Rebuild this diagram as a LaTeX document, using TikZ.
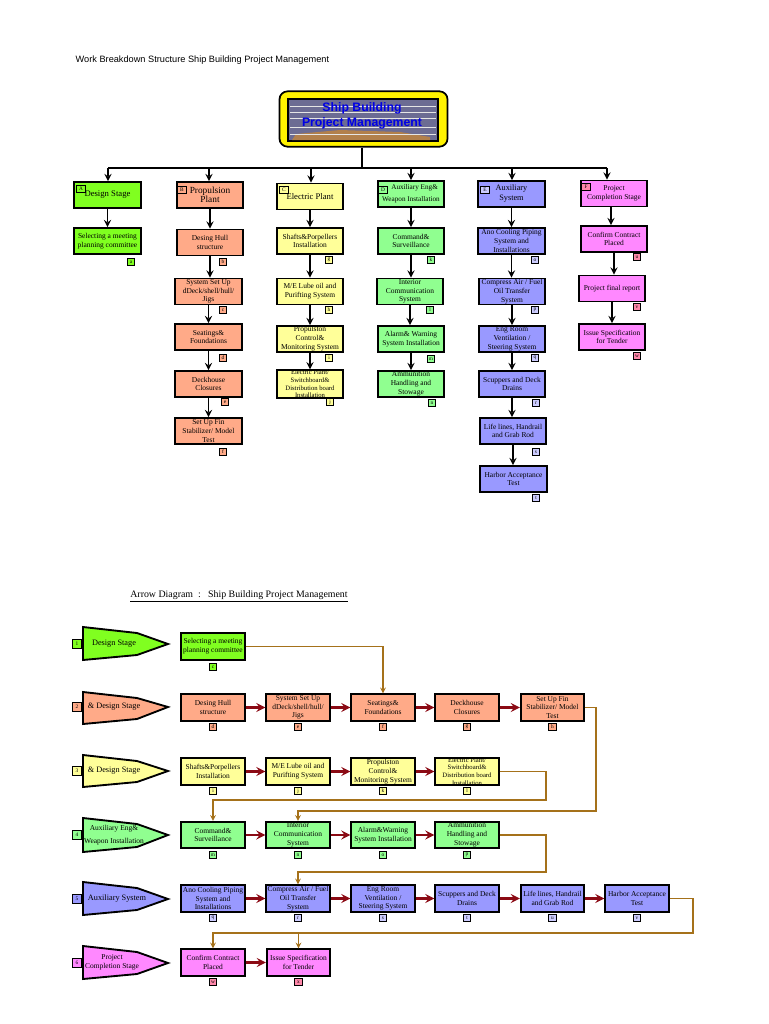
\documentclass[tikz,border=0pt]{standalone}
\usepackage{fontspec}
\setmainfont{Liberation Serif}
\setsansfont{Liberation Sans}
\definecolor{grn}{HTML}{80FF20}
\definecolor{sal}{HTML}{FFAA88}
\definecolor{yel}{HTML}{FFFF99}
\definecolor{mnt}{HTML}{90FF90}
\definecolor{per}{HTML}{9999FF}
\definecolor{pnk}{HTML}{FF88FF}
\definecolor{lper}{HTML}{CCCCFF}
\definecolor{lpnk}{HTML}{FF88AA}
\definecolor{brn}{HTML}{A5711A}
\definecolor{drd}{HTML}{8B0A14}
\begin{document}
\begin{tikzpicture}[x=0.75pt,y=-0.75pt,
    wbox/.style={draw=black,line width=1.3pt,minimum width=50pt,minimum height=19.5pt,inner sep=0pt,align=center,font=\fontsize{5.6}{6.6}\selectfont},
    abox/.style={wbox,minimum width=47.5pt,minimum height=20pt},
    tag/.style={draw=black,line width=0.7pt,minimum width=5.5pt,minimum height=5.5pt,inner sep=0pt,font=\fontsize{4}{4}\selectfont},
    stage/.style={align=center,inner sep=0pt,font=\fontsize{6.2}{7.2}\selectfont},
    arr/.style={-stealth,line width=1.4pt},
    red/.style={-stealth,draw=drd,line width=2pt},
    lnk/.style={draw=brn,line width=0.9pt},
    lnkarr/.style={lnk,-stealth}]
  \useasboundingbox (0,0) rectangle (768,1024);
  \node[anchor=west,font=\sffamily\fontsize{6.9}{8}\selectfont] (title) at (71,60) {Work Breakdown Structure Ship Building Project Management};
  \node[fill=yellow,draw=black,line width=1.3pt,rounded corners=6pt,minimum width=126pt,minimum height=41.5pt] (main) at (363.5,119) {};
  \node[fill=gray!85!blue,draw=black,line width=1.3pt,minimum width=112pt,minimum height=31pt] (mainpic) at (363,120) {};
  \fill[brown!80!gray] (296,134) -- (340,130) -- (400,132) -- (430,137) -- (430,140) -- (292,140) -- cycle;
  \foreach \y in {106,112,118,127,134}{ \draw[white!80!gray,line width=0.6pt] (290,\y) -- (436,\y); }
  \node[align=center,text=blue!90!black,font=\sffamily\bfseries\fontsize{9.2}{11.2}\selectfont] (maintext) at (362,115.5) {Ship Building\\Project Management};

  \coordinate (busl) at (108,168);
  \coordinate (busr) at (607,168);
  \coordinate (trunk) at (362,168);
  \draw[line width=1.4pt] (main.south -| trunk) -- (trunk);
  \draw[line width=1.4pt] (busl) -- (busr);

  \node[wbox,fill=grn] (A) at (107.5,195) {\fontsize{6.5}{7.5}\selectfont Design Stage};
  \node[wbox,fill=sal] (B) at (210,195) {\fontsize{7}{8}\selectfont Propulsion\\\fontsize{7}{8}\selectfont Plant};
  \node[wbox,fill=yel] (C) at (310,196.5) {\fontsize{6.5}{7.5}\selectfont Electric Plant};
  \node[wbox,fill=mnt,font=\fontsize{5.4}{9}\selectfont] (D) at (411,194) {\quad Auxiliary Eng\&\\Weapon Installation};
  \node[wbox,fill=per,font=\fontsize{6.2}{7.5}\selectfont] (E) at (511.5,194) {Auxiliary\\System};
  \node[wbox,fill=pnk] (F) at (614,193.5) {Project\\Completion Stage};

  \node[wbox,fill=grn] (wa) at (107.5,241) {Selecting a meeting\\planning committee};
  \node[wbox,fill=sal] (wb) at (210,242.5) {Desing Hull\\structure};
  \node[wbox,fill=sal] (wc) at (208.5,291.5) {System Set Up\\dDeck/shell/hull/\\Jigs};
  \node[wbox,fill=sal] (wd) at (208.5,337) {Seatings\&\\Foundations};
  \node[wbox,fill=sal] (we) at (208.5,384) {Deckhouse\\Closures};
  \node[wbox,fill=sal] (wf) at (208.5,431) {Set Up Fin\\Stabilizer/ Model\\Test};
  \node[wbox,fill=yel] (wg) at (310,241) {Shafts\&Porpellers\\Installation};
  \node[wbox,fill=yel] (wh) at (310,291.5) {M/E Lube oil and\\Purifting System};
  \node[wbox,fill=yel] (wi) at (310,339) {Propulston\\Control\&\\Monitoring System};
  \node[wbox,fill=yel,font=\fontsize{5}{5.7}\selectfont] (wj) at (310,384) {Electric Plant/\\Switchboard\&\\Distribution board\\Installation};
  \node[wbox,fill=mnt] (wk) at (411,241) {Command\&\\Surveillance};
  \node[wbox,fill=mnt] (wl) at (410,291.5) {Interior\\Communication\\System};
  \node[wbox,fill=mnt] (wm) at (411,339) {Alarm\& Warning\\System Installation};
  \node[wbox,fill=mnt] (wn) at (411,384) {Ammunition\\Handling and\\Stowage};
  \node[wbox,fill=per] (wo) at (511.5,241) {Ano Cooling Piping\\System and\\Installations};
  \node[wbox,fill=per] (wp) at (512,291.5) {Compress Air / Fuel\\Oil Transfer\\System};
  \node[wbox,fill=per] (wq) at (512,339) {Eng Room\\Ventilation /\\Steering System};
  \node[wbox,fill=per] (wr) at (512,384) {Scuppers and Deck\\Drains};
  \node[wbox,fill=per] (ws) at (513,431) {Life lines, Handrail\\and Grab Rod};
  \node[wbox,fill=per] (wt) at (513.5,479) {Harbor Acceptance\\Test};
  \node[wbox,fill=pnk] (wu) at (614,239) {Confirm Contract\\Placed};
  \node[wbox,fill=pnk] (wv) at (612,288.5) {Project final report};
  \node[wbox,fill=pnk] (ww) at (612,337) {Issue Specification\\for Tender};

  \foreach \q/\x in {A/108,B/209,C/311,D/411,E/512,F/607}{ \coordinate (drop\q) at (\x,168); \draw[arr] (drop\q) -- (drop\q |- \q.north); }
  \foreach \p/\q in {A/wa,B/wb,wb/wc,wc/wd,wd/we,we/wf,C/wg,wg/wh,wh/wi,wi/wj,D/wk,wk/wl,wl/wm,wm/wn,E/wo,wo/wp,wp/wq,wq/wr,wr/ws,ws/wt,wu/wv,wv/ww}{ \draw[arr] (\p.south) -- (\p.south |- \q.north); }
  \draw[arr] (F.south) ++(-3,0) coordinate (fdrop) -- (fdrop |- wu.north);

  \foreach \t/\x/\y/\c in {A/81/189/grn,B/182/190/sal,C/284/190/yel,D/383/190/mnt,E/485/190/lper,F/586/187/lpnk}{ \node[tag,fill=\c,minimum width=6.5pt] (tag\t) at (\x,\y) {\t}; }
  \foreach \t/\x/\y/\c in {a/131/262/grn,b/223/262/sal,c/223/310/sal,d/223/358/sal,e/225/402/sal,f/223/452/sal,g/329/260/yel,h/329/310/yel,i/329/358/yel,j/330/402/yel,k/431/260/mnt,l/430/310/mnt,m/431/359/mnt,n/432/403/mnt,o/535/260/lper,p/535/310/lper,q/535/358/lper,r/536/403/lper,s/536/452/lper,t/536/498/lper,u/637/257/lpnk,v/637/307/lpnk,w/637/356/lpnk}{ \node[tag,fill=\c] (tag\t) at (\x,\y) {\t}; }

  \node[font=\fontsize{7.4}{9}\selectfont] (arrowtitle) at (239,596) {\underline{Arrow Diagram\ \ :\ \ \ Ship Building Project Management}};

  \foreach \r/\t/\b/\m/\c in {1/627/660/644/grn,2/692/724/707/sal,3/755/787/771/yel,4/818/852/835/mnt,5/882/915/899/per,6/946/979/963/pnk}{
    \draw[fill=\c,line width=1.4pt,line join=miter] (83,\t) -- (137,\t+6) -- (168,\m) -- (137,\b-5) -- (83,\b) -- cycle;
    \node[tag,fill=\c,minimum width=6.5pt,minimum height=6.5pt] (tagr\r) at (77,\m) {\r};
  }
  \node[stage] (s1) at (114,644) {Design Stage};
  \node[stage] (s2) at (114,707) {\& Design Stage};
  \node[stage] (s3) at (114,771) {\& Design Stage};
  \node[stage,font=\fontsize{5.6}{9.5}\selectfont] (s4) at (114,835) {Auxiliary Eng\&\\Weapon Installation};
  \node[stage] (s5) at (117,899) {Auxiliary System};
  \node[stage,font=\fontsize{5.6}{6.8}\selectfont] (s6) at (112,962) {Project\\Completion Stage};

  \node[abox,fill=grn] (ac) at (213,646.5) {Selecting a meeting\\planning committee};
  \node[abox,fill=sal] (ad) at (213,707.5) {Desing Hull\\structure};
  \node[abox,fill=sal] (ae) at (298,707.5) {System Set Up\\dDeck/shell/hull/\\Jigs};
  \node[abox,fill=sal] (af) at (383,707.5) {Seatings\&\\Foundations};
  \node[abox,fill=sal] (ag) at (467,707.5) {Deckhouse\\Closures};
  \node[abox,fill=sal] (ah) at (552.5,707.5) {Set Up Fin\\Stabilizer/ Model\\Test};
  \node[abox,fill=yel] (ai) at (213,771.5) {Shafts\&Porpellers\\Installation};
  \node[abox,fill=yel] (aj) at (298,771.5) {M/E Lube oil and\\Purifting System};
  \node[abox,fill=yel] (ak) at (383,771.5) {Propulston\\Control\&\\Monitoring System};
  \node[abox,fill=yel,font=\fontsize{5}{5.7}\selectfont] (al) at (467,771.5) {Electric Plant/\\Switchboard\&\\Distribution board\\Installation};
  \node[abox,fill=mnt] (am) at (213,835) {Command\&\\Surveillance};
  \node[abox,fill=mnt] (an) at (298,835) {Interior\\Communication\\System};
  \node[abox,fill=mnt] (ao) at (383,835) {Alarm\&Warning\\System Installation};
  \node[abox,fill=mnt] (ap) at (467,835) {Ammunition\\Handling and\\Stowage};
  \node[abox,fill=per] (aq) at (213,898.5) {Ano Cooling Piping\\System and\\Installations};
  \node[abox,fill=per] (ar) at (298,898.5) {Compress Air / Fuel\\Oil Transfer\\System};
  \node[abox,fill=per] (as) at (383,898.5) {Eng Room\\Ventilation /\\Steering System};
  \node[abox,fill=per] (at) at (467,898.5) {Scuppers and Deck\\Drains};
  \node[abox,fill=per] (au) at (552.5,898.5) {Life lines, Handrail\\and Grab Rod};
  \node[abox,fill=per] (av) at (637,898.5) {Harbor Acceptance\\Test};
  \node[abox,fill=pnk] (aw) at (213,962.5) {Confirm Contract\\Placed};
  \node[abox,fill=pnk] (ax) at (298.5,962.5) {Issue Specification\\for Tender};

  \foreach \t/\c/\y in {c/grn/667,d/sal/727,e/sal/727,f/sal/727,g/sal/727,h/sal/727,i/yel/791,j/yel/791,k/yel/791,l/yel/791,m/mnt/855,n/mnt/855,o/mnt/855,p/mnt/855,q/lper/918,r/lper/918,s/lper/918,t/lper/918,u/lper/918,v/lper/918,w/lpnk/982,x/lpnk/982}{ \node[tag,fill=\c] (atag\t) at (a\t.south |- 0,\y) {\t}; }

  \foreach \p/\q in {ad/ae,ae/af,af/ag,ag/ah,ai/aj,aj/ak,ak/al,am/an,an/ao,ao/ap,aq/ar,ar/as,as/at,at/au,au/av,aw/ax}{ \draw[red] (\p) -- (\q); }

  \coordinate (c1) at (546,800);
  \coordinate (c2) at (596,811);
  \coordinate (c3) at (546,872);
  \coordinate (c4) at (693,933);
  \draw[lnkarr] (ac.east) -| (af.north);
  \draw[lnkarr] (ah.east) -| (c2) -| (an.north);
  \draw[lnkarr] (al.east) -| (c1) -| (am.north);
  \draw[lnkarr] (ap.east) -| (c3) -| (ar.north);
  \draw[lnkarr] (av.east) -| (c4) -| (aw.north);
  \draw[lnkarr] (ax.north |- c4) -- (ax.north);
\end{tikzpicture}
\end{document}
